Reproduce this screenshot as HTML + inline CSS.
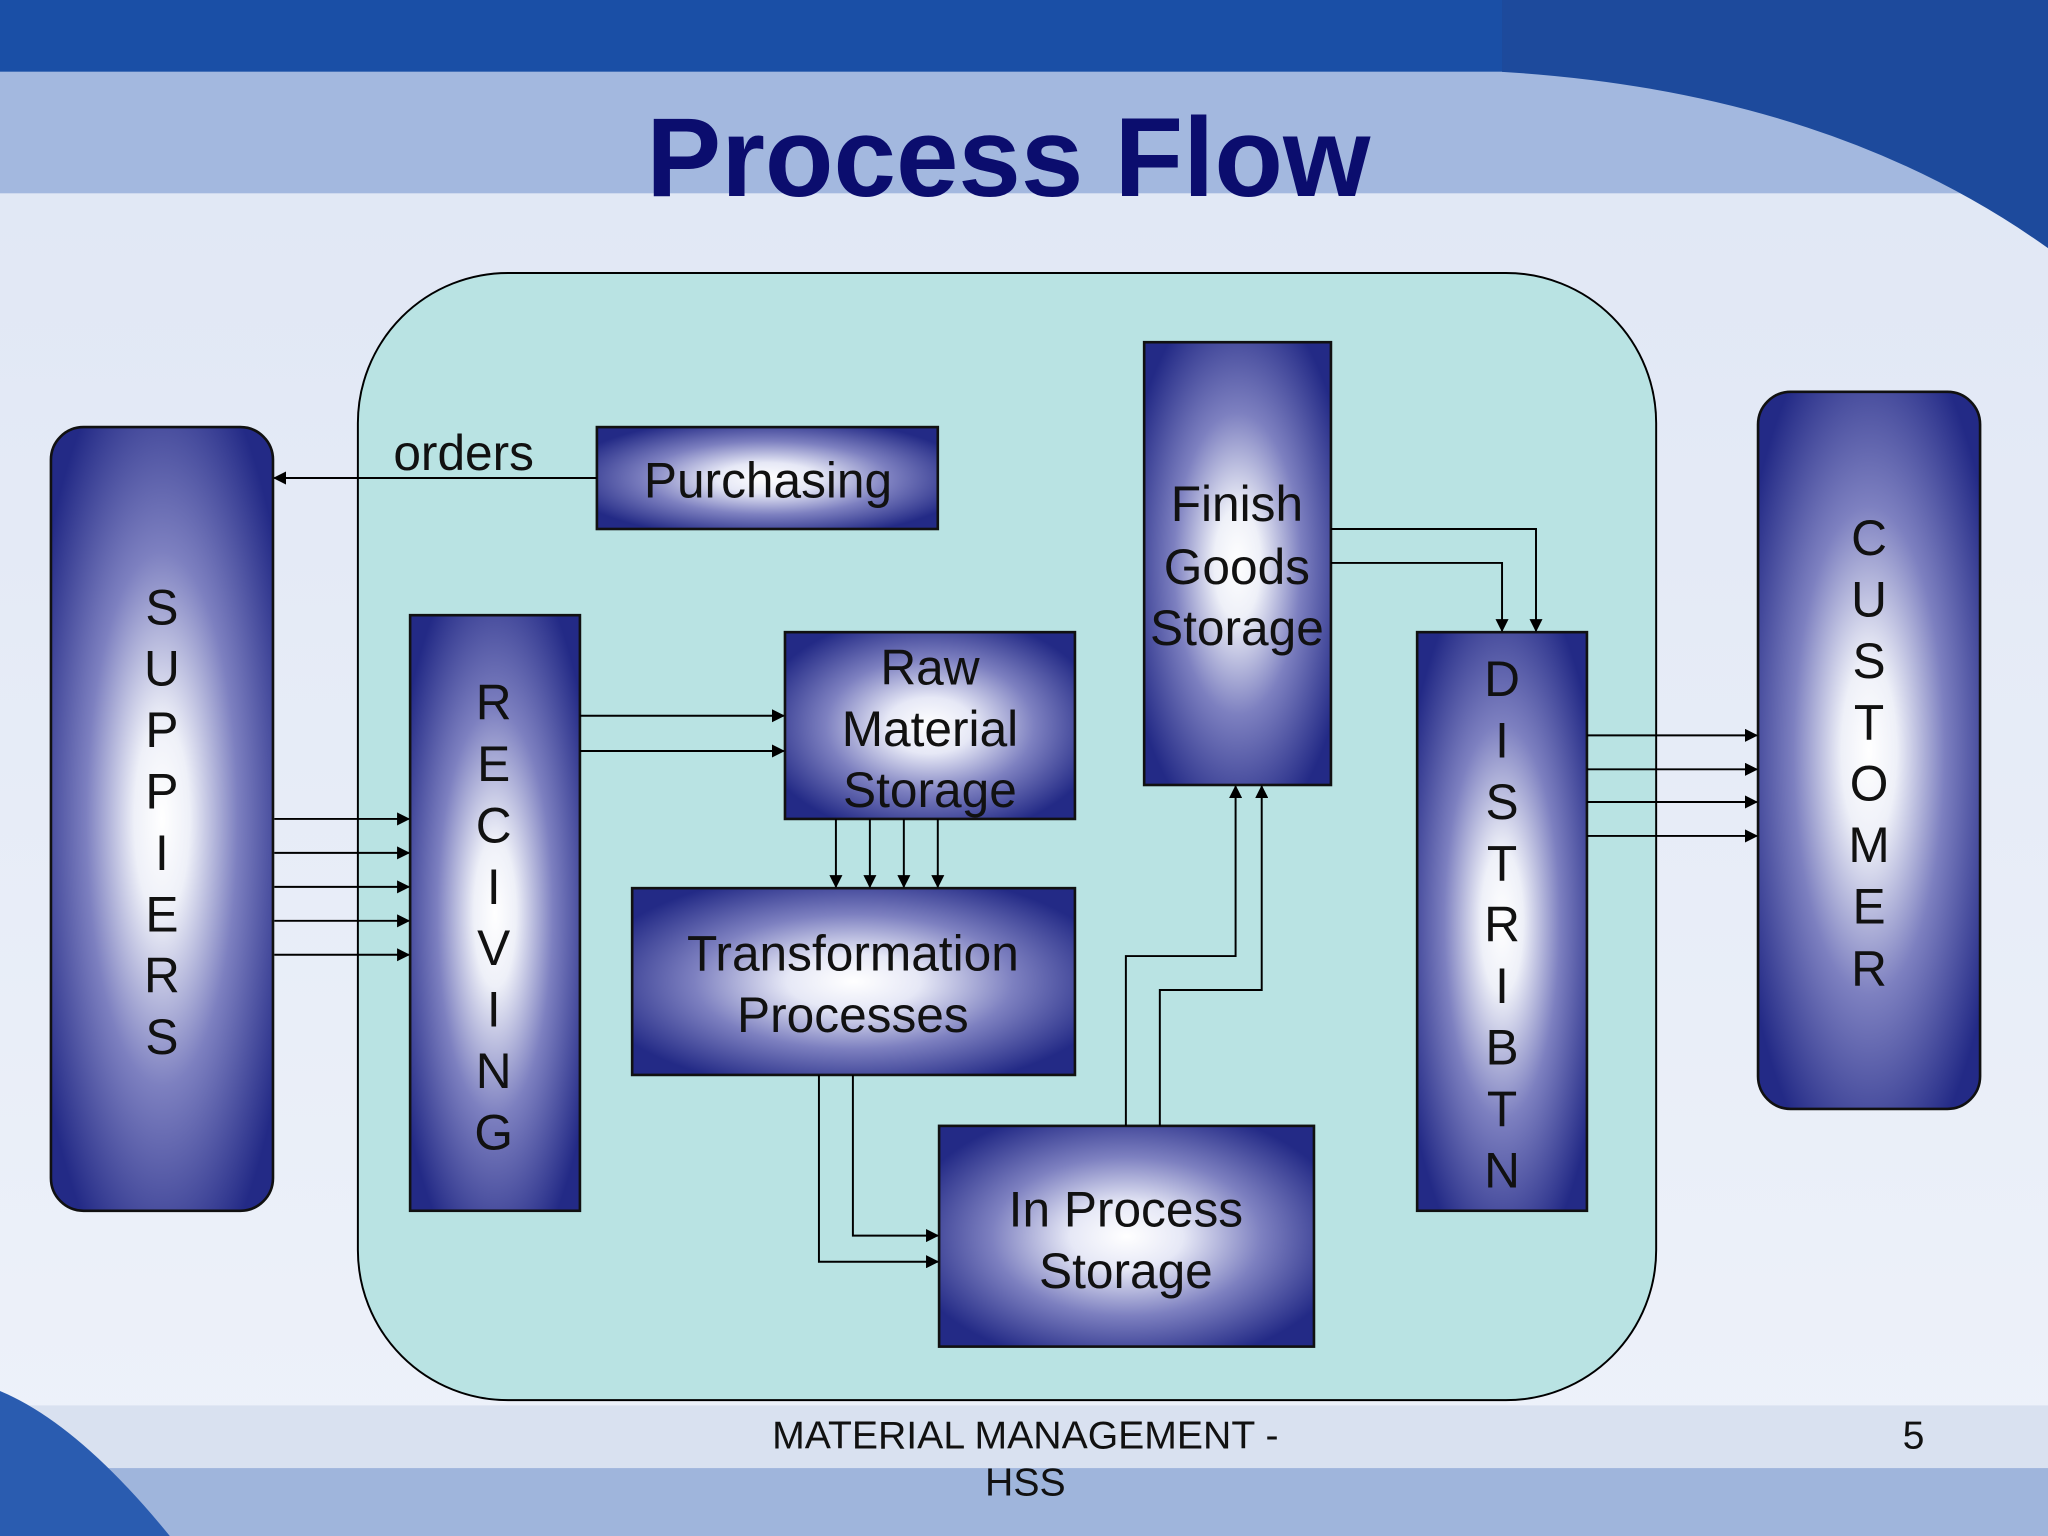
<!DOCTYPE html>
<html><head><meta charset="utf-8"><style>
html,body{margin:0;padding:0;width:2048px;height:1536px;overflow:hidden;background:#e4eaf6}
svg{display:block}
text{font-family:"Liberation Sans",sans-serif}
</style></head><body>
<svg width="2048" height="1536" viewBox="0 0 1568 1176" xmlns="http://www.w3.org/2000/svg">
<defs>
<linearGradient id="bg" x1="0" y1="0" x2="0" y2="1">
<stop offset="0" stop-color="#dfe6f4"/><stop offset="1" stop-color="#eef2fa"/>
</linearGradient>
<radialGradient id="box" cx="0.5" cy="0.5" r="0.6">
<stop offset="0" stop-color="#ffffff"/><stop offset="0.25" stop-color="#e6e8f6"/>
<stop offset="0.6" stop-color="#7d80c0"/><stop offset="1" stop-color="#232a86"/>
</radialGradient>
<radialGradient id="vbox" cx="0.5" cy="0.5" r="0.62">
<stop offset="0" stop-color="#ffffff"/><stop offset="0.2" stop-color="#eef0f8"/>
<stop offset="0.55" stop-color="#7d80c0"/><stop offset="1" stop-color="#232a86"/>
</radialGradient>
<marker id="a" markerWidth="10" markerHeight="10" refX="9" refY="5" orient="auto" markerUnits="userSpaceOnUse">
<path d="M0,0 L10,5 L0,10 z" fill="#000"/></marker>
</defs>
<rect width="1568" height="1176" fill="url(#bg)"/>
<rect width="1568" height="55" fill="#1a4fa6"/>
<rect y="55" width="1568" height="93" fill="#a3b8df"/>
<path d="M1150,55 Q1400,70 1568,190 L1568,0 L1150,0 z" fill="#1d4a9c"/>
<rect y="1076" width="1568" height="50" fill="#d9e1f0"/>
<rect y="1124" width="1568" height="52" fill="#9fb5dc"/>
<path d="M0,1065 Q60,1090 130,1176 L0,1176 z" fill="#2a5cb0"/>
<text x="772" y="150" font-size="86" font-weight="bold" fill="#0b0d6e" text-anchor="middle">Process Flow</text>
<rect x="274" y="209" width="994" height="863" rx="115" fill="#b9e3e3" stroke="#000" stroke-width="1.5"/>

<g stroke="#111" stroke-width="2">
<rect x="39" y="327" width="170" height="600" rx="25" fill="url(#vbox)"/>
<rect x="314" y="471" width="130" height="456" fill="url(#vbox)"/>
<rect x="457" y="327" width="261" height="78" fill="url(#box)"/>
<rect x="601" y="484" width="222" height="143" fill="url(#box)"/>
<rect x="484" y="680" width="339" height="143" fill="url(#box)"/>
<rect x="719" y="862" width="287" height="169" fill="url(#box)"/>
<rect x="876" y="262" width="143" height="339" fill="url(#vbox)"/>
<rect x="1085" y="484" width="130" height="443" fill="url(#vbox)"/>
<rect x="1346" y="300" width="170" height="549" rx="25" fill="url(#vbox)"/>
</g>

<g stroke="#000" stroke-width="1.5" fill="none" marker-end="url(#a)">
<path d="M457,366 H210"/>
<path d="M210,627 H313"/><path d="M210,653 H313"/><path d="M210,679 H313"/><path d="M210,705 H313"/><path d="M210,731 H313"/>
<path d="M444,548 H600"/><path d="M444,575 H600"/>
<path d="M640,627 V679"/><path d="M666,627 V679"/><path d="M692,627 V679"/><path d="M718,627 V679"/>
<path d="M627,823 V966 H718"/><path d="M653,823 V946 H718"/>
<path d="M862,862 V732 H946 V602"/><path d="M888,862 V758 H966 V602"/>
<path d="M1019,405 H1176 V483"/><path d="M1019,431 H1150 V483"/>
<path d="M1215,563 H1345"/><path d="M1215,589 H1345"/><path d="M1215,614 H1345"/><path d="M1215,640 H1345"/>
</g>

<g fill="#111" font-size="38" text-anchor="middle">
<text x="355" y="360">orders</text>
<text x="588" y="381">Purchasing</text>
<text x="712" y="524">Raw</text><text x="712" y="571">Material</text><text x="712" y="618">Storage</text>
<text x="653" y="743">Transformation</text><text x="653" y="790">Processes</text>
<text x="862" y="939">In Process</text><text x="862" y="986">Storage</text>
<text x="947" y="399">Finish</text><text x="947" y="447">Goods</text><text x="947" y="494">Storage</text>
</g>
<g fill="#111" font-size="38" text-anchor="middle">
<text x="124" y="478">S</text><text x="124" y="525">U</text><text x="124" y="572">P</text><text x="124" y="619">P</text><text x="124" y="666">I</text><text x="124" y="713">E</text><text x="124" y="760">R</text><text x="124" y="807">S</text>
<text x="378" y="551">R</text><text x="378" y="598">E</text><text x="378" y="645">C</text><text x="378" y="692">I</text><text x="378" y="739">V</text><text x="378" y="786">I</text><text x="378" y="833">N</text><text x="378" y="880">G</text>
<text x="1150" y="533">D</text><text x="1150" y="580">I</text><text x="1150" y="627">S</text><text x="1150" y="674">T</text><text x="1150" y="721">R</text><text x="1150" y="768">I</text><text x="1150" y="815">B</text><text x="1150" y="862">T</text><text x="1150" y="909">N</text>
<text x="1431" y="425">C</text><text x="1431" y="472">U</text><text x="1431" y="519">S</text><text x="1431" y="566">T</text><text x="1431" y="613">O</text><text x="1431" y="660">M</text><text x="1431" y="707">E</text><text x="1431" y="755">R</text>
</g>
<g fill="#111" font-size="30" text-anchor="middle">
<text x="785" y="1109">MATERIAL MANAGEMENT -</text>
<text x="785" y="1145">HSS</text>
<text x="1465" y="1109">5</text>
</g>
</svg>
</body></html>
